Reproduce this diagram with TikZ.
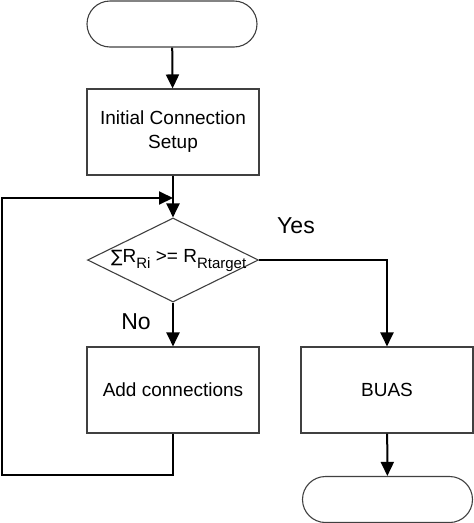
\documentclass[tikz,border=0pt]{standalone}
\usepackage{fontspec}
\setmainfont{Liberation Sans}
\newfontfamily\symfont{DejaVu Sans}
\usetikzlibrary{shapes.geometric,shapes.misc,arrows.meta}
\newcommand{\mysub}[1]{\raisebox{-0.36em}{\fontsize{15}{15}\selectfont #1}}
\begin{document}
\begin{tikzpicture}[x=1pt,y=-1pt,
  box/.style={draw=black!75, line width=1.1pt, minimum width=172pt, minimum height=86pt, inner sep=0pt, align=center, font=\fontsize{19}{24}\selectfont},
  term/.style={draw=black!75, line width=1.1pt, rounded rectangle, minimum width=170pt, minimum height=46pt, inner sep=0pt},
  dec/.style={diamond, draw=black!75, line width=1.1pt, minimum width=171pt, minimum height=84pt, inner sep=0pt},
  conn/.style={line width=2pt, -{Triangle[length=14pt,width=13pt]}},
  plain/.style={line width=2pt},
  lbl/.style={font=\fontsize{23}{27}\selectfont, inner sep=0pt}]
\useasboundingbox (0,0) rectangle (474,523);
\node[term] (start) at (172,24) {};
\node[box] (init) at (173,132) {Initial Connection\\Setup};
\node[dec] (dec) at (173,260) {};
\node[inner sep=0pt, anchor=base west, font=\fontsize{19}{23}\selectfont] (cond) at (111,262) {{\symfont\fontsize{17}{17}\selectfont ∑}R\mysub{Ri} >= R\mysub{Rtarget}};
\node[box] (add) at (173,390) {Add connections};
\node[box] (buas) at (387,390) {BUAS};
\node[term] (stop) at (387.5,499.5) {};
\node[lbl] (yes) at (296,226) {Yes};
\node[lbl] (no) at (136,322) {No};
\coordinate (merge) at (173,198);
\coordinate (lb) at (2,475);
\coordinate (lt) at (2,198);
\coordinate (ab) at (173,475);
\draw[conn] (start) -- (init);
\draw[plain] (init.south) -- (merge);
\draw[conn] (merge) -- (dec.north);
\draw[conn] (dec.south) -- (add.north);
\draw[conn] (dec.east) -| (buas.north);
\draw[conn] (buas) -- (stop);
\draw[conn] (add.south) -- (ab) -- (lb) -- (lt) -- (merge);
\end{tikzpicture}
\end{document}
